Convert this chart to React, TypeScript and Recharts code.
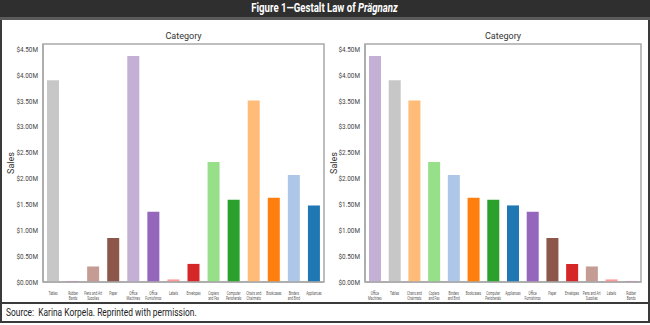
import React from 'react'
import { BarChart, Bar, XAxis, YAxis, Cell, ReferenceArea } from 'recharts'

const categories = [
  'Tables',
  'Rubber Bands',
  'Pens and Art Supplies',
  'Paper',
  'Office Machines',
  'Office Furnishings',
  'Labels',
  'Envelopes',
  'Copiers and Fax',
  'Computer Peripherals',
  'Chairs and Chairmats',
  'Bookcases',
  'Binders and Binder Accessories',
  'Appliances',
]

const tickLabels = [
  ['Tables'],
  ['Rubber', 'Bands'],
  ['Pens and Art', 'Supplies'],
  ['Paper'],
  ['Office', 'Machines'],
  ['Office', 'Furnishings'],
  ['Labels'],
  ['Envelopes'],
  ['Copiers', 'and Fax'],
  ['Computer', 'Peripherals'],
  ['Chairs and', 'Chairmats'],
  ['Bookcases'],
  ['Binders', 'and Bind'],
  ['Appliances'],
]

// sales in $M
const sales = [3.9, 0.02, 0.3, 0.85, 4.37, 1.36, 0.05, 0.35, 2.32, 1.59, 3.51, 1.63, 2.07, 1.48]

const colors = [
  '#c7c7c7',
  '#e377c2',
  '#c49c94',
  '#8c564b',
  '#c5b0d5',
  '#9467bd',
  '#ff9896',
  '#d62728',
  '#98df8a',
  '#2ca02c',
  '#ffbb78',
  '#ff7f0e',
  '#aec7e8',
  '#1f77b4',
]

const yTicks = [0, 0.5, 1, 1.5, 2, 2.5, 3, 3.5, 4, 4.5]

const FONT = "Roboto, 'Liberation Sans', sans-serif"
const FRAME = '#a9a9a9'

type Row = { name: string; lines: string[]; value: number; color: string }

const byCategory: Row[] = categories.map((name, i) => ({
  name,
  lines: tickLabels[i],
  value: sales[i],
  color: colors[i],
}))

const bySales: Row[] = [...byCategory].sort((a, b) => b.value - a.value)

function CategoryTick(props: any) {
  const { x, y, payload, rows } = props
  const row = (rows as Row[]).find((r) => r.name === payload.value)
  const lines = row ? row.lines : [payload.value]
  return (
    <g transform={`translate(${x},${y + 5}) scale(0.68,1)`}>
      <text x={0} y={0} textAnchor='middle' fontSize={4.6} fill='#555' fontFamily={FONT}>
        {lines.map((l: string, i: number) => (
          <tspan key={i} x={0} dy={i === 0 ? 0 : 5}>
            {l}
          </tspan>
        ))}
      </text>
    </g>
  )
}

function SalesTick(props: any) {
  const { x, y, payload } = props
  return (
    <g transform={`translate(${x},${y}) scale(0.85,1)`}>
      <text x={0} y={0} dy='0.35em' textAnchor='end' fontSize={7.5} fill='#444' fontFamily={FONT}>
        {`$${payload.value.toFixed(2)}M`}
      </text>
    </g>
  )
}

function SalesChart({ rows, left, width, salesDx }: { rows: Row[]; left: number; width: number; salesDx: number }) {
  return (
    <div style={{ position: 'absolute', left, top: 0 }}>
      <BarChart width={width} height={300} data={rows} margin={{ top: 44, right: 6, left: 0, bottom: 0 }}>
        <ReferenceArea
          y1={0}
          y2={4.6}
          fill='none'
          stroke={FRAME}
          strokeWidth={1.5}
          ifOverflow='visible'
          label={{ value: 'Category', position: 'top', offset: 5, fontSize: 9, fill: '#333', fontFamily: FONT }}
        />
        <XAxis
          dataKey='name'
          interval={0}
          height={18}
          tickLine={false}
          axisLine={{ stroke: FRAME, strokeWidth: 1.5 }}
          tick={<CategoryTick rows={rows} />}
        />
        <YAxis
          width={43}
          domain={[0, 4.6]}
          ticks={yTicks}
          interval={0}
          tickLine={false}
          tickSize={0}
          tickMargin={5}
          axisLine={{ stroke: FRAME, strokeWidth: 1.5 }}
          tick={<SalesTick />}
          label={{ value: 'Sales', angle: -90, position: 'center', dx: salesDx, fontSize: 9, fill: '#333', fontFamily: FONT }}
        />
        <Bar dataKey='value' barSize={12} isAnimationActive={false}>
          {rows.map((r) => (
            <Cell key={r.name} fill={r.color} />
          ))}
        </Bar>
      </BarChart>
    </div>
  )
}

export default function App() {
  return (
    <div
      style={{
        position: 'absolute',
        left: 0,
        top: 0,
        width: 650,
        height: 325,
        background: '#fff',
        overflow: 'hidden',
        fontFamily: FONT,
      }}
    >
      <div
        style={{
          position: 'absolute',
          left: 0,
          top: 0,
          width: 650,
          height: 17,
          background: '#2f2f2f',
          borderBottom: '3px solid #5a5a5a',
          color: '#fff',
          fontWeight: 'bold',
          fontSize: 12,
          lineHeight: '17px',
          textAlign: 'center',
        }}
      >
        <span style={{ display: 'inline-block', transform: 'scaleX(0.8)' }}>
          Figure 1—Gestalt Law of <i>Prägnanz</i>
        </span>
      </div>
      <div
        style={{
          position: 'absolute',
          left: 0,
          top: 20,
          width: 646,
          height: 301,
          borderLeft: '2px solid #3a3a3a',
          borderRight: '2px solid #3a3a3a',
          borderBottom: '2px solid #3a3a3a',
        }}
      />
      <SalesChart rows={byCategory} left={0} width={330} salesDx={-11} />
      <SalesChart rows={bySales} left={322} width={325} salesDx={-10} />
      <div
        style={{
          position: 'absolute',
          left: 0,
          top: 302,
          width: 650,
          height: 2,
          background: '#3a3a3a',
        }}
      />
      <div
        style={{
          position: 'absolute',
          left: 6,
          top: 306,
          fontSize: 10.5,
          lineHeight: '14px',
          color: '#222',
          whiteSpace: 'nowrap',
          transform: 'scaleX(0.8)',
          transformOrigin: 'left center',
        }}
      >
        Source:&nbsp; Karina Korpela. Reprinted with permission.
      </div>
    </div>
  )
}
